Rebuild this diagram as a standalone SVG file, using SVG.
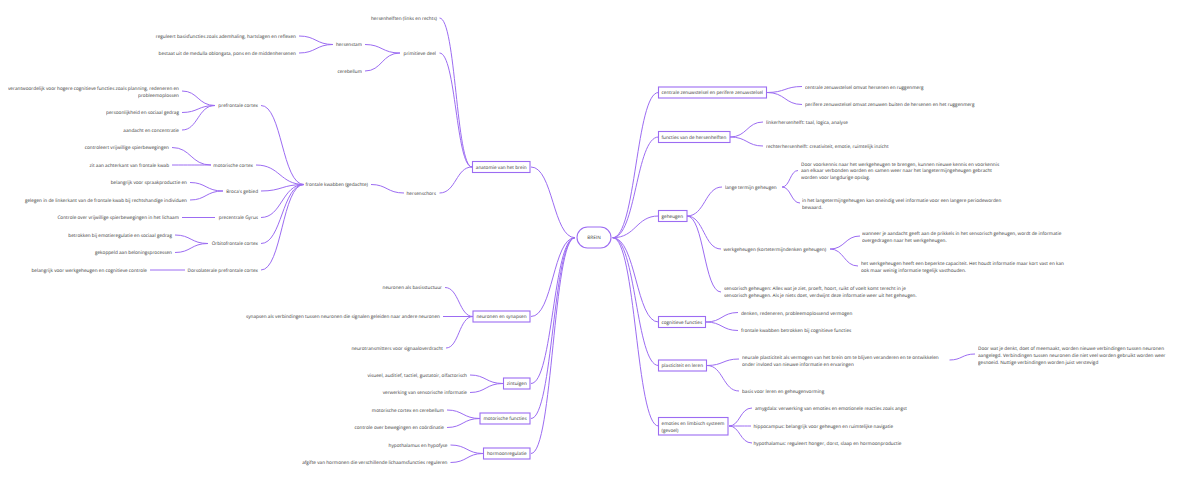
<svg xmlns="http://www.w3.org/2000/svg" width="1200" height="479" viewBox="0 0 1200 479">
<style>
text{font-family:"Open Sans","Noto Sans",sans-serif;font-size:4.7px;fill:#333;text-rendering:geometricPrecision;opacity:.99}
.e{text-anchor:end}
.m{text-anchor:middle}
rect{fill:#fff;stroke:#9c6cf2;stroke-width:1.1}
#connectors path{fill:none;stroke:#9c6cf2;stroke-width:1}
</style>
<rect width="1200" height="479" style="fill:#fff;stroke:none"/>
<g id="connectors">
<path d="M575 237.7C553 237.7 553 167 531 167"/>
<path d="M575 237.7C553 237.7 553 316.5 531 316.5"/>
<path d="M575 237.7C553 237.7 553 383.5 531 383.5"/>
<path d="M575 237.7C553 237.7 553 418.5 531 418.5"/>
<path d="M575 237.7C553 237.7 553 453.5 531 453.5"/>
<path d="M472 167C456 167 456 18 439.5 18"/>
<path d="M472 167C456 167 456 53 439.5 53"/>
<path d="M472 167C456 167 456 193 439.5 193"/>
<path d="M400 53C382 53 382 44.5 365 44.5"/>
<path d="M400 53C382 53 382 71 365 71"/>
<path d="M333 44.5C316 44.5 316 36 299 36"/>
<path d="M333 44.5C316 44.5 316 53 299 53"/>
<path d="M404 193C387 193 387 184.5 371 184.5"/>
<path d="M304 184.5C282 184.5 282 105.5 261 105.5"/>
<path d="M304 184.5C280 184.5 280 165 256 165"/>
<path d="M304 184.5C282 184.5 282 191 261 191"/>
<path d="M304 184.5C282 184.5 282 217.5 261 217.5"/>
<path d="M304 184.5C282 184.5 282 243.5 261 243.5"/>
<path d="M304 184.5C282 184.5 282 270 261 270"/>
<path d="M215 105.5C198 105.5 198 91 182 91"/>
<path d="M215 105.5C198 105.5 198 112.5 182 112.5"/>
<path d="M215 105.5C198 105.5 198 130 182 130"/>
<path d="M211 165C191 165 191 147.5 172 147.5"/>
<path d="M211 165C191 165 191 165 172 165"/>
<path d="M223 191C206 191 206 182.5 190 182.5"/>
<path d="M223 191C206 191 206 200 190 200"/>
<path d="M215 217.5H182"/>
<path d="M208 243.5C191 243.5 191 235 175 235"/>
<path d="M208 243.5C191 243.5 191 252.5 175 252.5"/>
<path d="M185 270H150"/>
<path d="M473 316.5C459 316.5 459 287.5 445 287.5"/>
<path d="M473 316.5H443"/>
<path d="M473 316.5C459 316.5 459 348 446 348"/>
<path d="M503 383.5C486 383.5 486 375 470 375"/>
<path d="M503 383.5C486 383.5 486 392.5 470 392.5"/>
<path d="M480 418.5C463 418.5 463 410 447 410"/>
<path d="M480 418.5C463 418.5 463 427.5 447 427.5"/>
<path d="M483 453.5C467 453.5 467 445 450.5 445"/>
<path d="M483 453.5C467 453.5 467 462.5 450.5 462.5"/>
<path d="M612.7 237.7C636 237.7 636 92.5 658.5 92.5"/>
<path d="M612.7 237.7C636 237.7 636 137 658.5 137"/>
<path d="M612.7 237.7C636 237.7 636 216 658.5 216"/>
<path d="M612.7 237.7C636 237.7 636 322 658.5 322"/>
<path d="M612.7 237.7C636 237.7 636 365.5 658.5 365.5"/>
<path d="M612.7 237.7C636 237.7 636 426 658.5 426"/>
<path d="M767 92.5C785 92.5 785 86.5 802 86.5"/>
<path d="M767 92.5C785 92.5 785 104.5 802 104.5"/>
<path d="M730 137C747 137 747 122 763 122"/>
<path d="M730 137C747 137 747 146 763 146"/>
<path d="M687 216C705 216 705 187 722 187"/>
<path d="M687 216C704 216 704 249 721 249"/>
<path d="M687 216C704 216 704 292 721 292"/>
<path d="M782 187C790 187 790 170.5 798 170.5"/>
<path d="M782 187C791 187 791 203 800 203"/>
<path d="M830 249C845 249 845 236 860 236"/>
<path d="M830 249C844 249 844 266 858 266"/>
<path d="M706 322C722 322 722 312.5 738 312.5"/>
<path d="M706 322C722 322 722 330.5 738 330.5"/>
<path d="M707 365.5C723 365.5 723 359 739 359"/>
<path d="M707 365.5C723 365.5 723 391 739 391"/>
<path d="M949.5 360C962 360 962 354 975 354"/>
<path d="M729 426C740 426 740 408 752 408"/>
<path d="M729 426C740 426 740 426 751 426"/>
<path d="M729 426C740 426 740 443 752 443"/>
</g>
<g id="brein"><rect x="577" y="227" width="34" height="21" rx="10.5"/><text class="m" x="594" y="239.4">BREIN</text></g>
<g id="anatomie"><rect x="472.5" y="161.5" width="57.5" height="11"/><text class="m" x="501.3" y="168.7">anatomie van het brein</text></g>
<g id="hersenhelften"><text class="e" x="437" y="20.2">hersenhelften (links en rechts)</text></g>
<g id="primitief"><text class="e" x="436" y="54.7">primitieve deel</text></g>
<g id="hersenstam"><text class="e" x="362" y="46.2">hersenstam</text></g>
<g id="basisfuncties"><text class="e" x="296" y="37.7">reguleert basisfuncties zoals ademhaling, hartslagen en reflexen</text></g>
<g id="medulla"><text class="e" x="296" y="54.7">bestaat uit de medulla oblongata, pons en de middenhersenen</text></g>
<g id="cerebellum"><text class="e" x="362" y="72.7">cerebellum</text></g>
<g id="hersenschors"><text class="e" x="436" y="194.7">hersenschors</text></g>
<g id="frontale"><text class="e" x="368" y="186.2">frontale kwabben (gedachte)</text></g>
<g id="prefrontale"><text class="e" x="258" y="107.2">prefrontale cortex</text></g>
<g id="verantwoordelijk"><text class="e" x="179" y="90.2">verantwoordelijk voor hogere cognitieve functies zoals planning, redeneren en</text><text class="e" x="179" y="96.9">probleemoplossen</text></g>
<g id="persoonlijkheid"><text class="e" x="179" y="114.2">persoonlijkheid en sociaal gedrag</text></g>
<g id="aandacht"><text class="e" x="179" y="131.7">aandacht en concentratie</text></g>
<g id="motorische-cortex"><text class="e" x="253" y="166.7">motorische cortex</text></g>
<g id="controleert"><text class="e" x="169" y="149.2">controleert vrijwillige spierbewegingen</text></g>
<g id="achterkant"><text class="e" x="169" y="166.7">zit aan achterkant van frontale kwab</text></g>
<g id="broca"><text class="e" x="258" y="192.7">Broca's gebied</text></g>
<g id="spraak"><text class="e" x="187" y="184.2">belangrijk voor spraakproductie en</text></g>
<g id="gelegen"><text class="e" x="187" y="201.7">gelegen in de linkerkant van de frontale kwab bij rechtshandige individuen</text></g>
<g id="precentrale"><text class="e" x="258" y="219.2">precentrale Gyrus</text></g>
<g id="controle"><text class="e" x="179" y="219.2">Controle over vrijwillige spierbewegingen in het lichaam</text></g>
<g id="orbito"><text class="e" x="258" y="245.2">Orbitofrontale cortex</text></g>
<g id="emotieregulatie"><text class="e" x="172" y="236.7">betrokken bij emotieregulatie en sociaal gedrag</text></g>
<g id="beloning"><text class="e" x="172" y="254.2">gekoppeld aan beloningsprocessen</text></g>
<g id="dorso"><text class="e" x="258" y="271.7">Dorsolaterale prefrontale cortex</text></g>
<g id="werkgeheugen-controle"><text class="e" x="147" y="271.7">belangrijk voor werkgeheugen en cognitieve controle</text></g>
<g id="neuronen"><rect x="473" y="311" width="57" height="11"/><text class="m" x="501.5" y="318.2">neuronen en synapsen</text></g>
<g id="basis"><text class="e" x="442" y="289.2">neuronen als basisstuctuur</text></g>
<g id="synapsen"><text class="e" x="440" y="318.2">synapsen als verbindingen tussen neuronen die signalen geleiden naar andere neuronen</text></g>
<g id="neurotransmitters"><text class="e" x="443" y="349.7">neurotransmitters voor signaaloverdracht</text></g>
<g id="zintuigen"><rect x="503.5" y="378" width="26.5" height="11"/><text class="m" x="516.8" y="385.2">zintuigen</text></g>
<g id="visueel"><text class="e" x="467" y="376.7">visueel, auditief, tactiel, gustatoir, olfactorisch</text></g>
<g id="sensorische"><text class="e" x="467" y="394.2">verwerking van sensorische informatie</text></g>
<g id="motorische-functies"><rect x="480" y="413" width="50" height="11"/><text class="m" x="505" y="420.2">motorische functies</text></g>
<g id="motor-cereb"><text class="e" x="444" y="411.7">motorische cortex en cerebellum</text></g>
<g id="coordinatie"><text class="e" x="444" y="429.2">controle over bewegingen en coördinatie</text></g>
<g id="hormoon"><rect x="483.5" y="448" width="46.5" height="11"/><text class="m" x="506.8" y="455.2">hormoonregulatie</text></g>
<g id="hypo"><text class="e" x="447.5" y="446.7">hypothalamus en hypofyse</text></g>
<g id="afgifte"><text class="e" x="447.5" y="464.2">afgifte van hormonen die verschillende lichaamsfuncties reguleren</text></g>
<g id="zenuwstelsel"><rect x="658.5" y="87" width="108" height="11"/><text x="661.5" y="94.2">centrale zenuwstelsel en perifere zenuwstelsel</text></g>
<g id="czs"><text x="805" y="88.7">centrale zenuwstelsel omvat hersenen en ruggenmerg</text></g>
<g id="pzs"><text x="805" y="105.7">perifere zenuwstelsel omvat zenuwen buiten de hersenen en het ruggenmerg</text></g>
<g id="functies"><rect x="658.5" y="131.5" width="71.5" height="11"/><text x="661.5" y="138.7">functies van de hersenhelften</text></g>
<g id="linker"><text x="766" y="123.7">linkerhersenhelft: taal, logica, analyse</text></g>
<g id="rechter"><text x="766" y="147.7">rechterhersenhelft: creativiteit, emotie, ruimtelijk inzicht</text></g>
<g id="geheugen"><rect x="658.5" y="210.5" width="28.5" height="11"/><text x="661.5" y="217.7">geheugen</text></g>
<g id="lange"><text x="725" y="188.7">lange termijn geheugen</text></g>
<g id="voorkennis"><text x="801" y="165.7">Door voorkennis naar het werkgeheugen te brengen, kunnen nieuwe kennis en voorkennis</text><text x="801" y="172.4">aan elkaar verbonden worden en samen weer naar het langetermijngeheugen gebracht</text><text x="801" y="179.1">worden voor langdurige opslag.</text></g>
<g id="onein"><text x="802" y="201.7">in het langetermijngeheugen kan oneindig veel informatie voor een langere periodeworden</text><text x="802" y="208.6">bewaard.</text></g>
<g id="werk"><text x="723.5" y="250.7">werkgeheugen (kortetermijndenken geheugen)</text></g>
<g id="wanneer"><text x="862" y="235.2">wanneer je aandacht geeft aan de prikkels in het sensorisch geheugen, wordt de informatie</text><text x="862" y="241.9">overgedragen naar het werkgeheugen.</text></g>
<g id="capaciteit"><text x="861" y="265">het werkgeheugen heeft een beperkte capaciteit. Het houdt informatie maar kort vast en kan</text><text x="861" y="271.7">ook maar weinig informatie tegelijk vasthouden.</text></g>
<g id="sensorisch"><text x="724" y="290.2">sensorisch geheugen: Alles wat je ziet, proeft, hoort, ruikt of voelt komt terecht in je</text><text x="724" y="297.1">sensorisch geheugen. Als je niets doet, verdwijnt deze informatie weer uit het geheugen.</text></g>
<g id="cognitieve"><rect x="658.5" y="316.5" width="47" height="11"/><text x="661.5" y="323.7">cognitieve functies</text></g>
<g id="denken"><text x="741" y="314.7">denken, redeneren, probleemoplossend vermogen</text></g>
<g id="betrokken"><text x="741" y="332.2">frontale kwabben betrokken bij cognitieve functies</text></g>
<g id="plasticiteit"><rect x="658.5" y="360" width="48" height="11"/><text x="661.5" y="367.2">plasticiteit en leren</text></g>
<g id="neurale"><text x="742" y="358.7">neurale plasticiteit als vermogen van het brein om te blijven veranderen en te ontwikkelen</text><text x="742" y="365.7">onder invloed van nieuwe informatie en ervaringen</text></g>
<g id="doorwat"><text x="978" y="349.7">Door wat je denkt, doet of meemaakt, worden nieuwe verbindingen tussen neuronen</text><text x="978" y="356.6">aangelegd. Verbindingen tussen neuronen die niet veel worden gebruikt worden weer</text><text x="978" y="363.5">gesnoeid. Nuttige verbindingen worden juist verstevigd</text></g>
<g id="leren"><text x="742" y="392.7">basis voor leren en geheugenvorming</text></g>
<g id="emoties"><rect x="658.5" y="417.5" width="69.5" height="17.5"/><text x="661.5" y="425.2">emoties en limbisch systeem</text><text x="661.5" y="431.9">(gevoel)</text></g>
<g id="amygdala"><text x="755" y="409.7">amygdala: verwerking van emoties en emotionele reacties zoals angst</text></g>
<g id="hippocampus"><text x="753.5" y="427.7">hippocampus: belangrijk voor geheugen en ruimtelijke navigatie</text></g>
<g id="hypothalamus"><text x="753.5" y="444.7">hypothalamus: reguleert honger, dorst, slaap en hormoonproductie</text></g>
</svg>
